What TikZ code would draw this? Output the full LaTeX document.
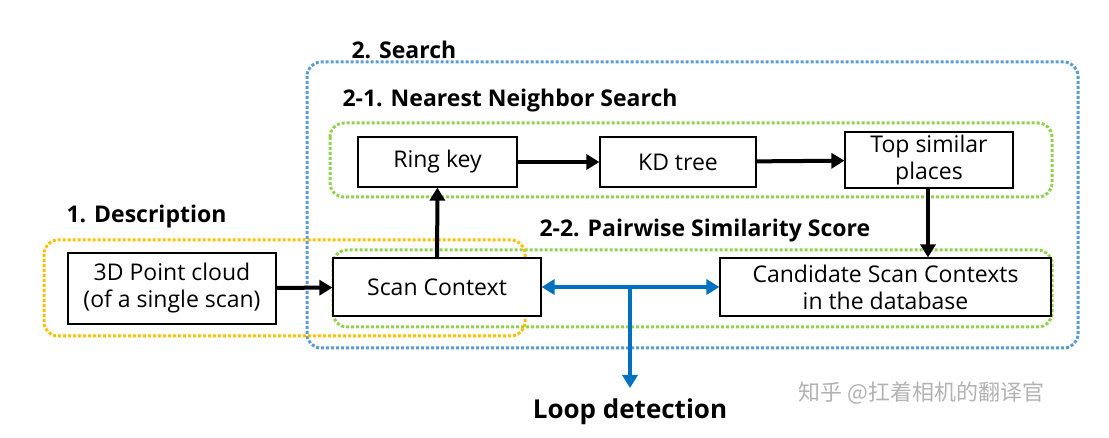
\documentclass[tikz,border=0pt]{standalone}
\usepackage{fontspec}
\setmainfont{Open Sans}
\newfontfamily\cjk{Noto Sans CJK SC}
\usetikzlibrary{arrows.meta}
\definecolor{bl}{RGB}{91,155,213}
\definecolor{gr}{RGB}{146,208,80}
\definecolor{yl}{RGB}{255,192,0}
\definecolor{ab}{RGB}{0,112,192}
\begin{document}
\begin{tikzpicture}[x=1pt,y=-1pt,
  box/.style={draw,line width=1.2pt,fill=white,font=\fontsize{23}{27}\selectfont,align=center,inner sep=0pt},
  grp/.style={draw=#1,line width=3pt,dotted,rounded corners=14pt},
  lab/.style={font=\fontsize{23}{26}\selectfont\bfseries,anchor=west},
  arr/.style={line width=4pt,-{Triangle[length=13pt,width=15pt]}},
  barr/.style={ab,line width=4pt,{Triangle[length=13pt,width=15pt]}-{Triangle[length=13pt,width=15pt]}}]
\useasboundingbox (0,0) rectangle (1109,438);
\draw[grp=bl] (307,62) rectangle (1078,348);
\draw[grp=gr] (330,123) rectangle (1052,197);
\draw[grp=gr] (333,250) rectangle (1052,327);
\draw[grp=yl] (44,240) rectangle (525,336);
\node[lab] (t1) at (348,50) {2. Search};
\node[lab] (t2) at (339,101) {2-1. Nearest Neighbor Search};
\node[lab] (t3) at (536,231) {2-2. Pairwise Similarity Score};
\node[lab] (t4) at (63,217) {1. Description};
\node[box,minimum width=159pt,minimum height=50pt] (rk) at (437.5,162) {Ring key};
\node[box,minimum width=156pt,minimum height=50pt] (kd) at (678,162) {KD tree};
\node[box,minimum width=168pt,minimum height=56pt] (tp) at (929,160) {Top similar\\places};
\node[box,minimum width=208pt,minimum height=58pt] (sc) at (437,287) {Scan Context};
\node[box,minimum width=331pt,minimum height=58pt] (cd) at (885.5,287) {Candidate Scan Contexts\\in the database};
\node[box,minimum width=208pt,minimum height=71pt] (pc) at (172,288.5) {3D Point cloud\\(of a single scan)};
\draw[arr] (pc) -- (sc);
\draw[arr] (sc) -- (rk);
\draw[arr] (rk) -- (kd);
\draw[arr] (kd) -- (tp);
\draw[arr] (tp.south -| 928,0) -- (cd.north -| 928,0);
\draw[barr] (sc) -- (cd);
\coordinate (m) at (630,287);
\node[font=\fontsize{26}{29}\selectfont\bfseries] (ld) at (630,412) {Loop detection};
\draw[ab,line width=4pt,-{Triangle[length=13pt,width=15pt]}] (m) -- (630,388);
\node[font=\cjk\fontsize{22}{25}\selectfont,text=gray!60,anchor=west] (wm) at (795,393) {知乎 @扛着相机的翻译官};
\end{tikzpicture}
\end{document}
